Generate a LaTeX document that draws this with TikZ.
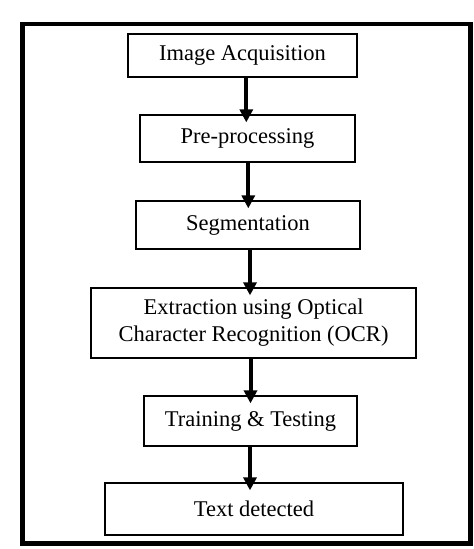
\documentclass[tikz,border=0pt]{standalone}
\usepackage{fontspec}
\setmainfont{Liberation Serif}
\usetikzlibrary{arrows.meta}
\begin{document}
\begin{tikzpicture}[x=1pt,y=-1pt,
  stepbox/.style={draw=black,line width=1.3pt,fill=white,inner sep=0pt,
    font=\fontsize{22.5}{27}\selectfont,align=center},
  flowarrow/.style={line width=4pt,-{Triangle[width=13pt,length=13pt]},shorten >=-8pt}]
\useasboundingbox (0,0) rectangle (474,549);
\node[draw=black,line width=4.5pt,minimum width=448pt,minimum height=519.5pt,inner sep=0pt] (frame) at (246.25,283.75) {};
\node[stepbox,minimum width=229pt,minimum height=43pt] (b1) at (242.5,55.5) {Image Acquisition};
\node[stepbox,minimum width=215pt,minimum height=47pt] (b2) at (247.5,138.5) {Pre-processing};
\node[stepbox,minimum width=224pt,minimum height=48pt] (b3) at (248,225) {Segmentation};
\node[stepbox,minimum width=325pt,minimum height=70pt] (b4) at (253.5,323) {Extraction using Optical\\Character Recognition (OCR)};
\node[stepbox,minimum width=213pt,minimum height=50pt] (b5) at (250.5,421) {Training \& Testing};
\node[stepbox,minimum width=298pt,minimum height=52pt] (b6) at (254,509) {Text detected};
\coordinate (x1) at (246.3,0);
\coordinate (x2) at (248.3,0);
\coordinate (x3) at (250,0);
\coordinate (x4) at (250.5,0);
\coordinate (x5) at (250,0);
\draw[flowarrow] (b1.south -| x1) -- (b2.north -| x1);
\draw[flowarrow] (b2.south -| x2) -- (b3.north -| x2);
\draw[flowarrow] (b3.south -| x3) -- (b4.north -| x3);
\draw[flowarrow] (b4.south -| x4) -- (b5.north -| x4);
\draw[flowarrow] (b5.south -| x5) -- (b6.north -| x5);
\end{tikzpicture}
\end{document}
